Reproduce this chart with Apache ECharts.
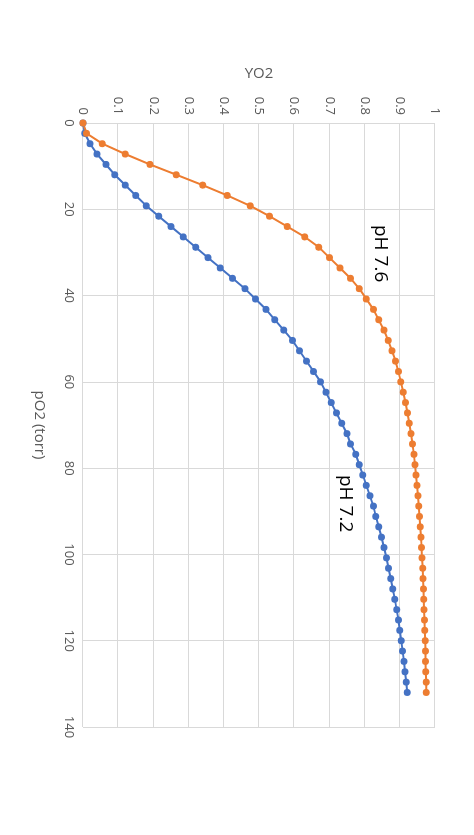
<!DOCTYPE html>
<html>
<head>
<meta charset="utf-8">
<script src="https://cdn.jsdelivr.net/npm/echarts@6/dist/echarts.min.js"></script>
<style>
  html, body { margin: 0; padding: 0; width: 474px; height: 835px; overflow: hidden; background: #fff; }
  #chart { position: absolute; left: 0; top: 0; width: 835px; height: 474px;
           transform-origin: 0 0; transform: translate(474px, 0) rotate(90deg); }
</style>
</head>
<body>
<div id="chart"></div>
<script>
// pO2 (torr) sample points
const pO2 = [0, 2.4, 4.8, 7.2, 9.6, 12, 14.4, 16.8, 19.2, 21.6, 24, 26.4, 28.8, 31.2, 33.6, 36, 38.4, 40.8,
  43.2, 45.6, 48, 50.4, 52.8, 55.2, 57.6, 60, 62.4, 64.8, 67.2, 69.6, 72, 74.4, 76.8, 79.2, 81.6, 84, 86.4,
  88.8, 91.2, 93.6, 96, 98.4, 100.8, 103.2, 105.6, 108, 110.4, 112.8, 115.2, 117.6, 120, 122.4, 124.8,
  127.2, 129.6, 132];
// YO2 at pH 7.2
const yo2_72 = [0, 0.005, 0.02, 0.04, 0.065, 0.09, 0.12, 0.15, 0.18, 0.215, 0.25, 0.285, 0.32, 0.355, 0.39,
  0.425, 0.46, 0.49, 0.52, 0.545, 0.57, 0.595, 0.615, 0.635, 0.655, 0.675, 0.69, 0.705, 0.72, 0.735, 0.75,
  0.76, 0.775, 0.785, 0.795, 0.805, 0.815, 0.825, 0.832, 0.84, 0.848, 0.855, 0.862, 0.868, 0.874, 0.88,
  0.886, 0.891, 0.896, 0.9, 0.904, 0.908, 0.912, 0.915, 0.918, 0.921];
// YO2 at pH 7.6
const yo2_76 = [0, 0.01, 0.055, 0.12, 0.19, 0.265, 0.34, 0.41, 0.475, 0.53, 0.58, 0.63, 0.67, 0.7, 0.73,
  0.76, 0.785, 0.805, 0.825, 0.84, 0.855, 0.867, 0.878, 0.888, 0.896, 0.903, 0.91, 0.916, 0.922, 0.927,
  0.932, 0.936, 0.94, 0.943, 0.946, 0.949, 0.952, 0.954, 0.956, 0.958, 0.96, 0.962, 0.963, 0.965, 0.966,
  0.967, 0.968, 0.969, 0.97, 0.971, 0.972, 0.973, 0.973, 0.974, 0.975, 0.975];

const chart = echarts.init(document.getElementById('chart'));
const labelFont = { color: '#595959', fontSize: 13, fontFamily: 'Open Sans' };
chart.setOption({
  animation: false,
  grid: { left: 123, right: 108, top: 39, bottom: 83 },
  xAxis: {
    type: 'value', min: 0, max: 140, interval: 20,
    name: 'pO2 (torr)', nameLocation: 'middle', nameGap: 36,
    nameTextStyle: { color: '#595959', fontSize: 15, fontFamily: 'Open Sans' },
    axisLine: { show: false }, axisTick: { show: false },
    axisLabel: labelFont,
    splitLine: { lineStyle: { color: '#d9d9d9' } }
  },
  yAxis: {
    type: 'value', min: 0, max: 1, interval: 0.1,
    name: 'YO2', nameLocation: 'middle', nameGap: 42,
    nameTextStyle: { color: '#595959', fontSize: 15, fontFamily: 'Open Sans' },
    axisLine: { show: false }, axisTick: { show: false },
    axisLabel: Object.assign({ formatter: v => String(+v.toFixed(1)) }, labelFont),
    splitLine: { lineStyle: { color: '#d9d9d9' } }
  },
  series: [
    { name: 'pH 7.2', type: 'line', data: pO2.map((p, i) => [p, yo2_72[i]]),
      symbol: 'circle', symbolSize: 7, color: '#4472C4', lineStyle: { width: 2 } },
    { name: 'pH 7.6', type: 'line', data: pO2.map((p, i) => [p, yo2_76[i]]),
      symbol: 'circle', symbolSize: 7, color: '#ED7D31', lineStyle: { width: 2 } }
  ],
  graphic: [
    { type: 'text', left: 225, top: 84, style: { text: 'pH 7.6', fontSize: 19, fill: '#000', fontFamily: 'Open Sans' } },
    { type: 'text', left: 475, top: 119, style: { text: 'pH 7.2', fontSize: 19, fill: '#000', fontFamily: 'Open Sans' } }
  ]
});
</script>
</body>
</html>
